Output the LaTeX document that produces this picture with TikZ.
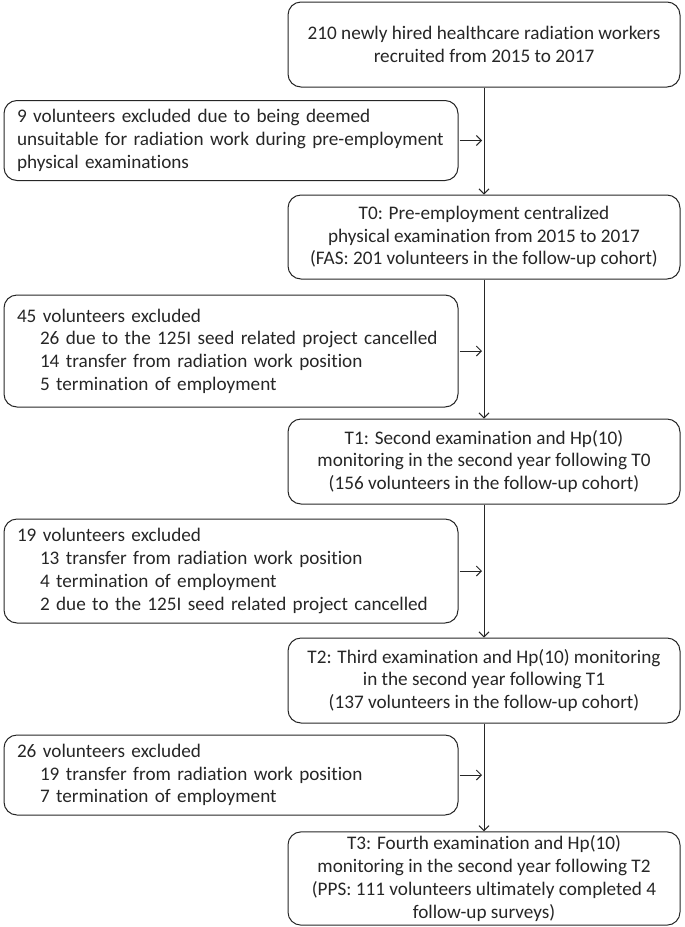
\documentclass[tikz,border=0pt]{standalone}
\usepackage{fontspec}
\setmainfont[Ligatures={NoCommon}]{Carlito}
\usetikzlibrary{arrows.meta}
\definecolor{ink}{HTML}{262626}
\tikzset{
  mainbox/.style={draw=ink, line width=1pt, rounded corners=13pt, minimum width=392pt, align=center, inner sep=4pt, text=ink, font=\fontsize{19.2}{22.7}\selectfont},
  exclbox/.style={draw=ink, line width=1pt, rounded corners=13pt, text width=428pt, inner xsep=13pt, inner ysep=4pt, align=left, text=ink, font=\fontsize{19.2}{22.7}\selectfont},
  flow/.style={draw=ink, line width=1pt, -{Straight Barb[length=5pt,width=10pt,line width=1pt]}},
}
\newcommand{\ind}{\hspace*{23pt}}
\begin{document}
\begin{tikzpicture}[x=1pt,y=-1pt]
\useasboundingbox (0,0) rectangle (685,927);
\node[mainbox, minimum height=85pt] (A) at (484,44.5) {210 newly hired healthcare radiation workers\\recruited from 2015 to 2017};
\node[mainbox, minimum height=84pt] (T0) at (484,237) {T0: Pre-employment centralized\\physical examination from 2015 to 2017\\(FAS: 201 volunteers in the follow-up cohort)};
\node[mainbox, minimum height=85pt] (T1) at (484,461.5) {T1: Second examination and Hp(10)\\monitoring in the second year following T0\\(156 volunteers in the follow-up cohort)};
\node[mainbox, minimum height=85pt] (T2) at (484,680.5) {T2: Third examination and Hp(10) monitoring\\in the second year following T1\\(137 volunteers in the follow-up cohort)};
\node[mainbox, minimum height=93pt] (T3) at (484,878.5) {T3: Fourth examination and Hp(10)\\monitoring in the second year following T2\\(PPS: 111 volunteers ultimately completed 4\\follow-up surveys)};

\node[exclbox, minimum height=80pt] (E1) at (231,140.5) {9 volunteers excluded due to being deemed\\\mbox{unsuitable for radiation work during pre-employment}\\physical examinations};
\node[exclbox, minimum height=112pt] (E2) at (231,351) {45 volunteers excluded\\\ind 26 due to the 125I seed related project cancelled\\\ind 14 transfer from radiation work position\\\ind 5 termination of employment};
\node[exclbox, minimum height=104pt] (E3) at (231,571) {19 volunteers excluded\\\ind 13 transfer from radiation work position\\\ind 4 termination of employment\\\ind 2 due to the 125I seed related project cancelled};
\node[exclbox, minimum height=80pt] (E4) at (231,775) {26 volunteers excluded\\\ind 19 transfer from radiation work position\\\ind 7 termination of employment};

\draw[flow] (A.south) -- (T0.north);
\draw[flow] (T0.south) -- (T1.north);
\draw[flow] (T1.south) -- (T2.north);
\draw[flow] (T2.south) -- (T3.north);
\draw[flow, shorten <=1pt, shorten >=2pt] (E1.east) -- (E1.east -| A.south);
\draw[flow, shorten <=1pt, shorten >=2pt] (E2.east) -- (E2.east -| A.south);
\draw[flow, shorten <=1pt, shorten >=2pt] (E3.east) -- (E3.east -| A.south);
\draw[flow, shorten <=1pt, shorten >=2pt] (E4.east) -- (E4.east -| A.south);
\end{tikzpicture}
\end{document}
